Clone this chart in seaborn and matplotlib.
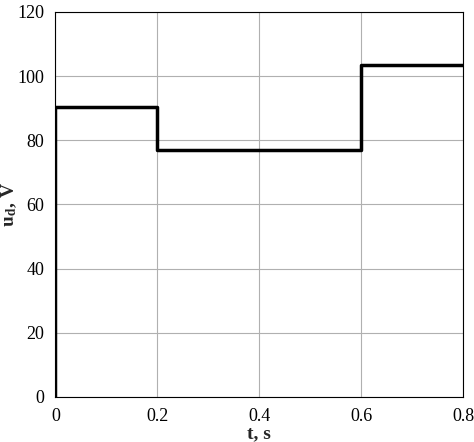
import matplotlib
matplotlib.use("Agg")
import matplotlib.pyplot as plt
import seaborn as sns

t = [0, 0, 0.2, 0.2, 0.6, 0.6, 0.8]
u = [0, 90.5, 90.5, 77, 77, 103.5, 103.5]

sns.set_theme(style="whitegrid")
plt.rcParams['font.family'] = ['Liberation Serif', 'DejaVu Serif']
plt.rcParams['mathtext.fontset'] = 'stix'
fig, ax = plt.subplots(figsize=(4.74, 4.42), dpi=100)
fig.subplots_adjust(left=0.117, right=0.977, top=0.973, bottom=0.102)
sns.lineplot(x=t, y=u, ax=ax, color='black', linewidth=2.5, sort=False, estimator=None)
ax.set_xlim(0, 0.8)
ax.set_ylim(0, 120)
ax.set_xticks([0, 0.2, 0.4, 0.6, 0.8])
ax.set_xticklabels(['0', '0.2', '0.4', '0.6', '0.8'])
ax.set_yticks(range(0, 121, 20))
ax.tick_params(labelsize=13, colors='black', pad=2)
ax.grid(True, color='#b0b0b0', linewidth=0.8)
for s in ax.spines.values():
    s.set_color('black'); s.set_linewidth(0.8)
ax.set_xlabel('t, s', fontsize=14, fontweight='bold', labelpad=0)
ax.set_ylabel(r'$\mathbf{u_d}$, V', fontsize=14, fontweight='bold', labelpad=0)
ax.yaxis.set_label_coords(-0.09, 0.5)
fig.savefig('out.png', dpi=100, facecolor='white')
